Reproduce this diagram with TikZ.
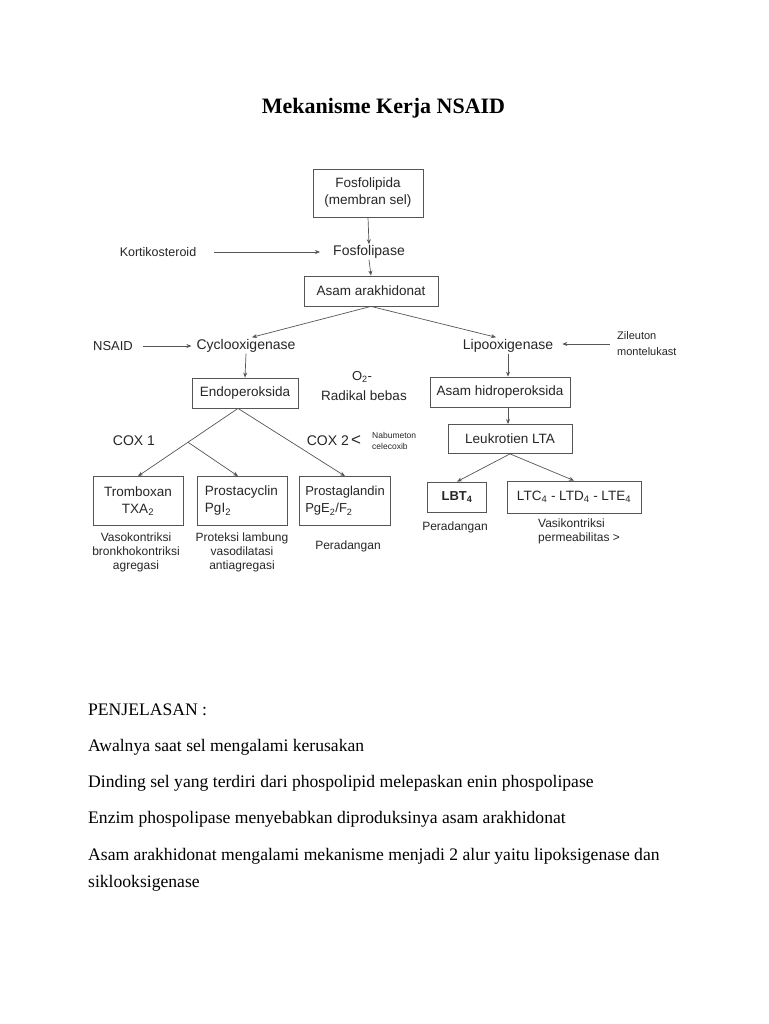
\documentclass[tikz,border=0pt]{standalone}
\usepackage{fontspec}
\setmainfont{Liberation Serif}
\newfontfamily\diag{Liberation Sans}
\usetikzlibrary{arrows.meta,calc}
\definecolor{txt}{HTML}{262626}
\definecolor{ln}{HTML}{555555}
\begin{document}
\begin{tikzpicture}[x=1pt,y=-1pt,
  lbl/.style={inner sep=1pt,text=txt,font=\diag\fontsize{14}{17}\selectfont},
  small/.style={inner sep=1pt,text=txt,font=\diag\fontsize{12}{14}\selectfont,align=center},
  boxn/.style={draw=ln,line width=0.8pt,inner sep=2pt,text=txt,font=\diag\fontsize{13.5}{17}\selectfont},
  arr/.style={draw=ln,line width=0.7pt,-{Stealth[length=5pt,width=4pt]}},
  body/.style={anchor=base west,inner sep=0pt,font=\fontsize{17.6}{22}\selectfont}]
\useasboundingbox (0,0) rectangle (768,1024);
\fill[white] (0,0) rectangle (768,1024);
% title
\node[anchor=base,inner sep=0pt,font=\bfseries\fontsize{22}{26}\selectfont] (title) at (383.5,114) {Mekanisme Kerja NSAID};
% top column
\node[boxn,minimum width=110,minimum height=48,align=center] (fos) at (368,193) {Fosfolipida\\(membran sel)};
\node[lbl] (fase) at (369,252) {Fosfolipase};
\node[lbl,font=\diag\fontsize{12.5}{15}\selectfont] (kort) at (158,252) {Kortikosteroid};
\node[boxn,minimum width=134,minimum height=30] (asam) at (371,291) {Asam arakhidonat};
% second row
\node[lbl,font=\diag\fontsize{13}{15}\selectfont] (nsaid) at (113,346) {NSAID};
\node[lbl] (cyclo) at (246,346) {Cyclooxigenase};
\node[lbl] (lipo) at (508,346) {Lipooxigenase};
\node[lbl,anchor=west,align=left,font=\diag\fontsize{11}{16}\selectfont] (zil) at (616,344) {Zileuton\\montelukast};
% third row
\node[boxn,minimum width=106,minimum height=30] (endo) at (245,393) {Endoperoksida};
\node[lbl,font=\diag\fontsize{13}{15}\selectfont] (o2) at (362,377) {O\textsubscript{2}-};
\node[lbl,font=\diag\fontsize{13.5}{15}\selectfont] (rad) at (364,396) {Radikal bebas};
\node[boxn,minimum width=140,minimum height=30] (hidro) at (500,392) {Asam hidroperoksida};
% fourth row
\node[lbl] (cox1) at (134,441) {COX 1};
\node[lbl] (cox2) at (334,441) {COX 2\,{\fontsize{17}{17}\selectfont<}};
\node[lbl,anchor=west,align=left,font=\diag\fontsize{8.5}{11}\selectfont] (nab) at (371,441) {Nabumeton\\celecoxib};
\node[boxn,minimum width=124,minimum height=29] (lta) at (510,439) {Leukrotien LTA};
% products
\node[boxn,minimum width=90,minimum height=49,align=center] (trom) at (138,501) {Tromboxan\\TXA\textsubscript{2}};
\node[boxn,minimum width=90,minimum height=49,align=left] (prost) at (242,501) {Prostacyclin\\PgI\textsubscript{2}\hspace*{48pt}};
\node[boxn,minimum width=91,minimum height=49,align=left,font=\diag\fontsize{13}{17}\selectfont] (pgl) at (345,501) {Prostaglandin\\PgE\textsubscript{2}/F\textsubscript{2}\hspace*{30pt}};
\node[small] (e1) at (136,552) {Vasokontriksi\\bronkhokontriksi\\agregasi};
\node[small] (e2) at (242,552) {Proteksi lambung\\vasodilatasi\\antiagregasi};
\node[small] (e3) at (348,546) {Peradangan};
\node[boxn,minimum width=59,minimum height=30,font=\diag\bfseries\fontsize{13}{15}\selectfont] (lbt) at (457,497) {LBT\textsubscript{4}};
\node[boxn,minimum width=134,minimum height=32] (ltc) at (574,497) {LTC\textsubscript{4} - LTD\textsubscript{4} - LTE\textsubscript{4}};
\node[small] (e4) at (455,527) {Peradangan};
\node[small,anchor=west,align=left] (e5) at (537,531) {Vasikontriksi\\permeabilitas >};
% connectors
\draw[arr] (fos.south) -- (fase.north);
\draw[arr,shorten <=17pt,shorten >=12pt] (kort) -- (fase);
\draw[arr] (fase.south) -- (asam.north);
\draw[arr] (asam.south) -- ([xshift=6pt,yshift=1pt]cyclo.north);
\draw[arr] (asam.south) -- ([xshift=-12pt,yshift=1pt]lipo.north);
\draw[arr,shorten <=9pt,shorten >=4pt] (nsaid) -- (cyclo);
\draw[arr,shorten <=6pt,shorten >=8pt] (zil.west) -- (zil.west -| lipo.east);
\draw[arr] (cyclo.south) -- (endo.north);
\draw[arr] (lipo.south) -- (lipo.south |- hidro.north);
\draw[arr] (lipo.south |- hidro.south) -- (lipo.south |- lta.north);
\coordinate (apex) at ([xshift=-7pt]endo.south);
\coordinate (mid) at ($(apex)!0.5!(trom.north)$);
\draw[arr] (apex) -- (trom.north);
\draw[arr] (apex) -- (pgl.north);
\draw[arr] (mid) -- ([xshift=-4pt]prost.north);
\draw[arr] (lta.south) -- (lbt.north);
\draw[arr] (lta.south) -- (ltc.north);
% explanation
\node[body] (p0) at (88,715) {PENJELASAN :};
\node[body] (p1) at (88,751) {Awalnya saat sel mengalami kerusakan};
\node[body] (p2) at (88,787) {Dinding sel yang terdiri dari phospolipid melepaskan enin phospolipase};
\node[body] (p3) at (88,823) {Enzim phospolipase menyebabkan diproduksinya asam arakhidonat};
\node[body] (p4) at (88,860) {Asam arakhidonat mengalami mekanisme menjadi 2 alur yaitu lipoksigenase dan};
\node[body] (p5) at (88,887) {siklooksigenase};
\end{tikzpicture}
\end{document}
